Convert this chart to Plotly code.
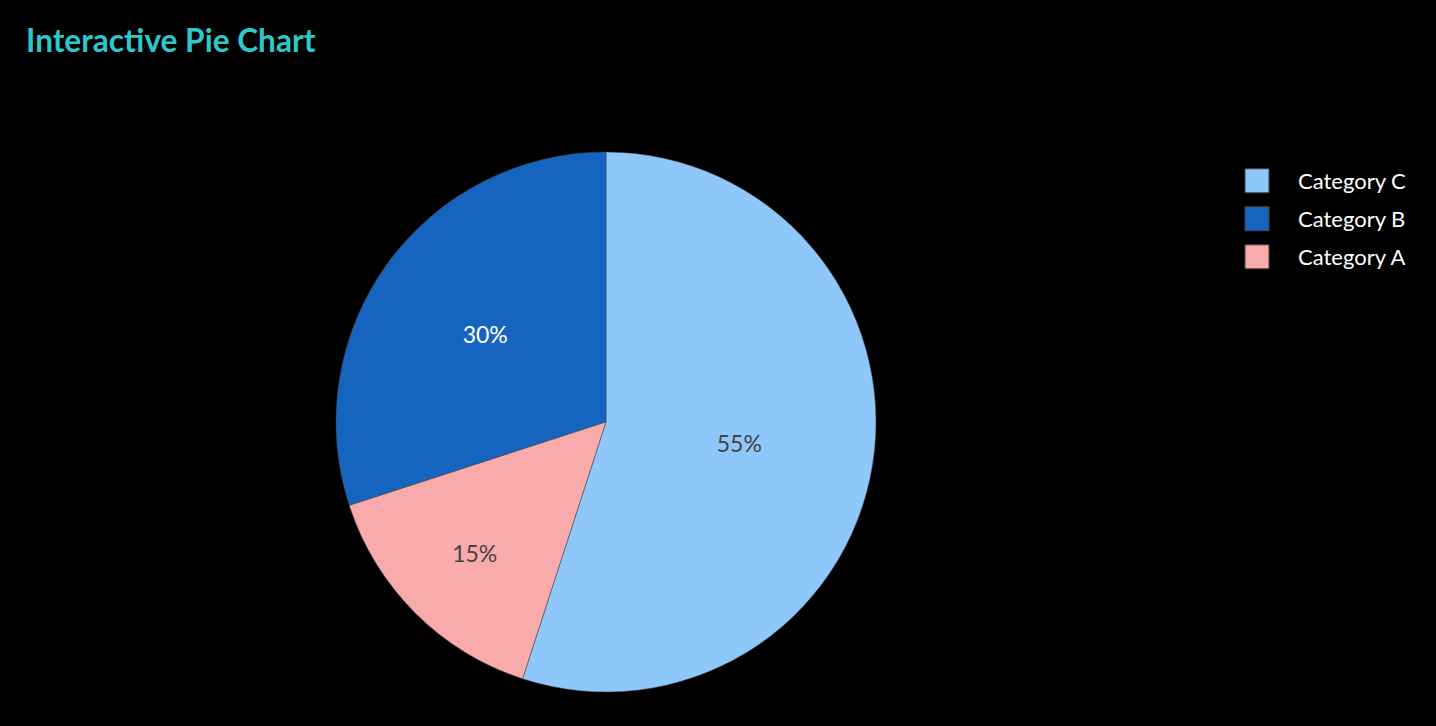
import plotly.graph_objects as go

categories = ["Category A", "Category B", "Category C"]
values = [15, 30, 55]
colors = ["#F9AAAA", "#1565C0", "#8EC8FA"]

W, H = 1436, 726

fig = go.Figure(
    go.Pie(
        labels=categories,
        values=values,
        marker=dict(colors=colors, line=dict(width=0.5, color="#444444")),
        textinfo="percent",
        textfont=dict(size=23),
        sort=True,
        direction="counterclockwise",
    )
)

fig.update_layout(
    width=W,
    height=H,
    paper_bgcolor="#000000",
    plot_bgcolor="#000000",
    font=dict(family="Lato, 'Noto Sans', sans-serif", color="#FFFFFF", size=22),
    title=dict(
        text="<b>Interactive Pie Chart</b>",
        font=dict(size=31.6, color="#2EC8CC"),
        xref="container",
        x=26 / W,
        xanchor="left",
        yref="container",
        y=1 - 41 / H,
        yanchor="middle",
    ),
    margin=dict(t=152, b=34, l=80, r=304, autoexpand=False),
    legend=dict(
        xref="container",
        yref="container",
        x=1216 / W,
        xanchor="left",
        y=1 - 160 / H,
        yanchor="top",
        itemwidth=72,
        font=dict(size=22, color="#FFFFFF"),
        bgcolor="rgba(0,0,0,0)",
    ),
)

post_js = """
document.body.style.margin = '0';
document.body.style.background = '#000';
var gd = document.getElementById('{plot_id}');
function fixLegend() {
  var items = gd.querySelectorAll('.legend .traces');
  var y0 = null;
  items.forEach(function (g, i) {
    var m = /translate\\(\\s*([-\\d.]+)[ ,]+([-\\d.]+)\\s*\\)/.exec(g.getAttribute('transform') || '');
    if (!m) return;
    if (y0 === null) y0 = parseFloat(m[2]);
    g.setAttribute('transform', 'translate(' + m[1] + ',' + (y0 + i * 38) + ')');
  });
  gd.querySelectorAll('.legend path.legendpie').forEach(function (p) {
    p.setAttribute('transform', 'translate(41,0) scale(2)');
  });
  gd.querySelectorAll('.legend .scrollbox').forEach(function (s) {
    s.removeAttribute('clip-path');
  });
}
fixLegend();
gd.on('plotly_afterplot', fixLegend);
"""

fig.write_html("out.html", post_script=post_js, config={"displayModeBar": False})
